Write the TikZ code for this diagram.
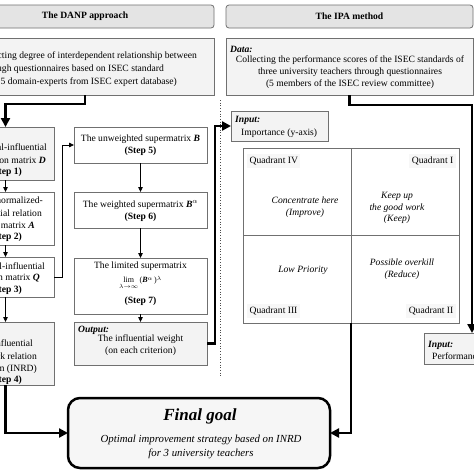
\documentclass[tikz,border=0pt]{standalone}
\usepackage{fontspec}
\setmainfont{Liberation Serif}
\usetikzlibrary{arrows.meta}
\definecolor{hdrfill}{HTML}{E4E4E4}
\definecolor{boxfill}{HTML}{F3F3F3}
\definecolor{edge}{HTML}{707070}
\definecolor{goalfill}{HTML}{F6F6F6}
\tikzset{
  base/.style={inner sep=0pt, outer sep=0pt, anchor=north west, line width=0.8pt, draw=edge},
  hdr/.style={base, fill=hdrfill, rounded corners=3pt, font=\fontsize{9.6}{12}\selectfont\bfseries},
  graybox/.style={base, fill=boxfill},
  whitebox/.style={base, fill=white},
  txt/.style={inner sep=0pt, font=\fontsize{9.6}{12}\selectfont},
  ctxt/.style={txt, align=center},
  itxt/.style={txt, align=center, font=\fontsize{9.6}{11.5}\selectfont\itshape},
  lbl/.style={txt, font=\fontsize{9.6}{12}\selectfont\bfseries\itshape},
  qlbl/.style={txt, fill=black!3, inner sep=2.5pt},
  bigarrow/.style={line width=2.6pt, -{Triangle[length=9pt,width=9pt]}},
  thinarrow/.style={line width=0.8pt, -{Triangle[length=5pt,width=4.5pt]}},
}
\newcommand{\bmat}[1]{{\bfseries\itshape #1}}
\begin{document}
\begin{tikzpicture}[x=1pt,y=-1pt]
\useasboundingbox (0,0) rectangle (474,474);
\clip (0,0) rectangle (474,474);
\fill[white] (0,0) rectangle (474,474);

% headers
\node[hdr, minimum width=258pt, minimum height=23pt] (danphdr) at (-44,5) {The DANP approach};
\node[hdr, minimum width=247pt, minimum height=23pt] (ipahdr) at (226,5) {The IPA method};

% data boxes
\node[graybox, minimum width=258pt, minimum height=57pt] (danpdata) at (-44,38) {};
\node[txt, anchor=east] (dl1) at (197,56) {Collecting degree of interdependent relationship between};
\node[txt, anchor=east] (dl2) at (164,69) {criteria through questionnaires based on ISEC standard};
\node[txt, anchor=east] (dl3) at (177,82) {(15 domain-experts from ISEC expert database)};

\node[graybox, minimum width=247pt, minimum height=57pt] (ipadata) at (226,38) {};
\node[lbl, anchor=west] (ipadatalbl) at (230,49) {Data:};
\node[ctxt] (ipadatatxt) at (350,72) {Collecting the performance scores of the ISEC standards of\\three university teachers through questionnaires\\(5 members of the ISEC review committee)};

% left step column
\node[graybox, minimum width=97pt, minimum height=53pt] (s1) at (-43,127) {};
\node[txt, anchor=east] (s1a) at (47,147) {Initial-influential};
\node[txt, anchor=east] (s1b) at (46,160) {relation matrix \bmat{D}};
\node[txt, anchor=east] (s1c) at (22,172) {\textbf{(Step 1)}};

\node[whitebox, minimum width=97pt, minimum height=53pt] (s2) at (-43,192) {};
\node[txt, anchor=east] (s2a) at (43,200) {The normalized-};
\node[txt, anchor=east] (s2b) at (42,213) {influential relation};
\node[txt, anchor=east] (s2c) at (35,225) {matrix \bmat{A}};
\node[txt, anchor=east] (s2d) at (22,237) {\textbf{(Step 2)}};

\node[whitebox, minimum width=97pt, minimum height=40pt] (s3) at (-43,257) {};
\node[txt, anchor=east] (s3a) at (45,266) {Total-influential};
\node[txt, anchor=east] (s3b) at (40,278) {relation matrix \bmat{Q}};
\node[txt, anchor=east] (s3c) at (22,290) {\textbf{(Step 3)}};

\node[graybox, minimum width=97pt, minimum height=63pt] (s4) at (-43,322) {};
\node[txt, anchor=east] (s4a) at (33,343) {Influential};
\node[txt, anchor=east] (s4b) at (37,356) {network relation};
\node[txt, anchor=east] (s4c) at (37,369) {diagram (INRD)};
\node[txt, anchor=east] (s4d) at (22,380) {\textbf{(Step 4)}};

% middle step column
\node[whitebox, minimum width=133pt, minimum height=36pt] (s5) at (74,127) {};
\node[ctxt] (s5t) at (140.5,145) {The unweighted supermatrix \bmat{B}\\\textbf{(Step 5)}};

\node[whitebox, minimum width=133pt, minimum height=36pt] (s6) at (74,192) {};
\node[ctxt] (s6t) at (140.5,211) {The weighted supermatrix \bmat{B}$^{\alpha}$\\\textbf{(Step 6)}};

\node[whitebox, minimum width=133pt, minimum height=56pt] (s7) at (74,258) {};
\node[txt] (s7a) at (140.5,266) {The limited supermatrix};
\node[txt] (s7b) at (140.5,283) {\fontsize{8}{9}\selectfont$\lim\limits_{\lambda\to\infty}$\,(\bmat{B}$^{\alpha}$\,)$^{\lambda}$};
\node[txt] (s7c) at (140.5,301) {\textbf{(Step 7)}};

\node[graybox, minimum width=133pt, minimum height=43pt] (out) at (74,322) {};
\node[lbl, anchor=west] (outlbl) at (78,330) {Output:};
\node[ctxt] (outt) at (140.5,345) {The influential weight\\(on each criterion)};

% dotted divider
\coordinate (dtop) at (220,100);
\coordinate (dbot) at (220,377);
\draw[dotted, line width=0.7pt, black!70] (dtop) -- (dbot);

% IPA side
\node[graybox, minimum width=97pt, minimum height=30pt] (imp) at (231,111) {};
\node[lbl, anchor=west] (implbl) at (235,120) {Input:};
\node[txt, anchor=west] (impt) at (241,133) {Importance (y-axis)};

\node[base, fill=white, minimum width=216pt, minimum height=175pt] (quad) at (243,148) {};
\draw[line width=0.8pt, edge] (quad.north) -- (quad.south);
\draw[line width=0.8pt, edge] (quad.west) -- (quad.east);
\node[qlbl, anchor=west] (q4) at (247,161) {Quadrant IV};
\node[qlbl, anchor=east] (q1) at (456,161) {Quadrant I};
\node[qlbl, anchor=west] (q3) at (247,311) {Quadrant III};
\node[qlbl, anchor=east] (q2) at (456,311) {Quadrant II};
\node[itxt] (q4t) at (305,207) {Concentrate here\\(Improve)};
\node[itxt] (q1t) at (397,208) {Keep up\\the good work\\(Keep)};
\node[itxt] (q3t) at (303,270) {Low Priority};
\node[itxt] (q2t) at (402,269) {Possible overkill\\(Reduce)};

\node[graybox, minimum width=96pt, minimum height=31pt] (perf) at (424,333) {};
\node[lbl, anchor=west] (perflbl) at (428,345) {Input:};
\node[txt, anchor=west] (perft) at (432,357) {Performance (x-axis)};

% final goal
\node[base, draw=black, line width=2.5pt, fill=goalfill, rounded corners=12pt, minimum width=262pt, minimum height=70pt] (goal) at (68,398) {};
\node[txt, font=\fontsize{17}{20}\selectfont\bfseries\itshape] (goalt) at (200,416) {Final goal};
\node[txt, align=center, font=\fontsize{10.8}{14}\selectfont\itshape] (goals) at (201,447) {Optimal improvement strategy based on INRD\\for 3 university teachers};

% connectors
\draw[bigarrow] (danpdata.south) -- ++(0,9) -| (s1.north);
\draw[thinarrow] (s1.south) -- (s2.north);
\draw[thinarrow] (s2.south) -- (s3.north);
\draw[thinarrow] (s3.south) -- (s4.north);
\draw[thinarrow] (s3.east) -- ++(8,0) |- (s5.west);
\draw[thinarrow] (s5.south) -- (s6.north);
\draw[thinarrow] (s6.south) -- (s7.north);
\draw[thinarrow] (s7.south) -- (out.north);
\draw[bigarrow] (out.east) -- ++(8,0) |- (imp.west);
\draw[bigarrow] (ipadata.south) -- ++(0,10) -| (perf.north);
\draw[bigarrow] (quad.south) |- (goal.east);
\draw[bigarrow] (s4.south) |- (goal.west);
\end{tikzpicture}
\end{document}
